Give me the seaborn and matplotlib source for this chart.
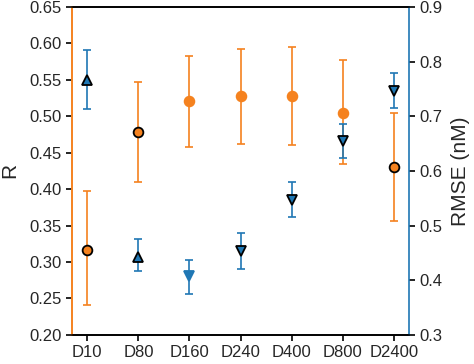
import matplotlib
matplotlib.use("Agg")
import matplotlib.pyplot as plt
import seaborn as sns
import pandas as pd

# --- dados ---
datasets = ["D10", "D80", "D160", "D240", "D400", "D800", "D2400"]

r_mean = [0.317, 0.479, 0.521, 0.528, 0.528, 0.505, 0.431]
r_low = [0.241, 0.410, 0.458, 0.462, 0.461, 0.435, 0.356]
r_high = [0.397, 0.547, 0.583, 0.592, 0.595, 0.577, 0.504]
r_edge = [True, True, False, False, False, False, True]

rmse_mean = [0.766, 0.443, 0.407, 0.454, 0.547, 0.654, 0.747]
rmse_low = [0.713, 0.416, 0.375, 0.421, 0.516, 0.623, 0.715]
rmse_high = [0.821, 0.476, 0.437, 0.487, 0.580, 0.685, 0.779]
rmse_marker = ["^", "^", "v", "v", "v", "v", "v"]
rmse_edge = [True, True, False, True, True, True, True]

orange = "#f5821f"
blue = "#1f77b4"

sns.set_style("ticks")
plt.rcParams["font.family"] = ["Liberation Sans", "DejaVu Sans"]

df = pd.DataFrame({
    "dataset": datasets, "x": range(len(datasets)),
    "r": r_mean, "r_lo": r_low, "r_hi": r_high,
    "rmse": rmse_mean, "rmse_lo": rmse_low, "rmse_hi": rmse_high,
})

fig, ax = plt.subplots(figsize=(4.74, 3.64), dpi=100)
fig.subplots_adjust(left=0.152, right=0.863, top=0.981, bottom=0.080)
ax2 = ax.twinx()

# barras de erro
ax.errorbar(df["x"], df["r"], yerr=[df["r"] - df["r_lo"], df["r_hi"] - df["r"]],
            fmt="none", ecolor=orange, elinewidth=1.2, capsize=3.2, capthick=1.2, zorder=2)
ax2.errorbar(df["x"], df["rmse"], yerr=[df["rmse"] - df["rmse_lo"], df["rmse_hi"] - df["rmse"]],
             fmt="none", ecolor=blue, elinewidth=1.2, capsize=3.2, capthick=1.2, zorder=2)

# marcadores
for i, row in df.iterrows():
    ec = "black" if r_edge[i] else orange
    ax.plot(row["x"], row["r"], marker="o", ms=7, mfc=orange, mec=ec, mew=1.3,
            linestyle="none", zorder=3)
    ec2 = "black" if rmse_edge[i] else blue
    ax2.plot(row["x"], row["rmse"], marker=rmse_marker[i], ms=7.5, mfc=blue, mec=ec2, mew=1.3,
             linestyle="none", zorder=3)

ax.set_xlim(-0.3, 6.3)
ax.set_ylim(0.20, 0.65)
ax.set_yticks([0.20, 0.25, 0.30, 0.35, 0.40, 0.45, 0.50, 0.55, 0.60, 0.65])
ax.set_yticklabels([f"{v:.2f}" for v in ax.get_yticks()])
ax2.set_ylim(0.3, 0.9)
ax2.set_yticks([0.3, 0.4, 0.5, 0.6, 0.7, 0.8, 0.9])
ax2.set_yticklabels([f"{v:.1f}" for v in ax2.get_yticks()])
ax.set_xticks(df["x"])
ax.set_xticklabels(datasets)

ax.set_ylabel("R", fontsize=15, labelpad=7)
ax2.set_ylabel("RMSE (nM)", fontsize=15, labelpad=6)

for a in (ax, ax2):
    a.tick_params(labelsize=12, width=1.2, length=4.5, color="black", pad=3)
    for s in a.spines.values():
        s.set_linewidth(1.2)
        s.set_color("black")
ax2.spines["left"].set_color(orange)
ax.spines["left"].set_color(orange)
ax2.spines["right"].set_color(blue)
ax.spines["right"].set_visible(False)

fig.savefig("out.png", dpi=100)
